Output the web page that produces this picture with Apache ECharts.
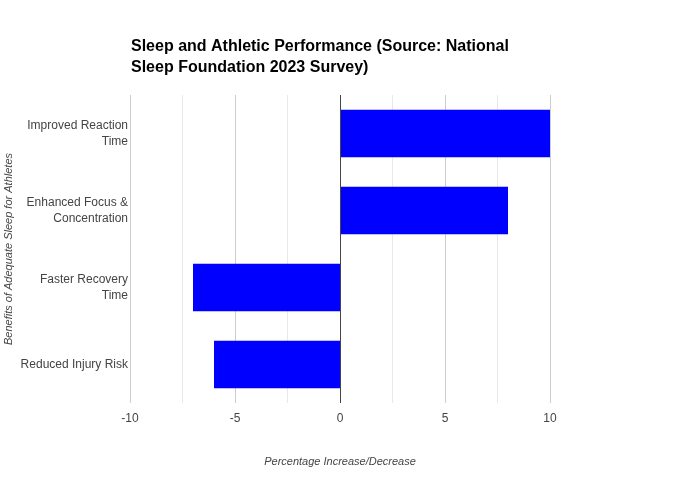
<!DOCTYPE html>
<html>
<head>
<meta charset="utf-8">
<script src="https://cdn.jsdelivr.net/npm/echarts@6/dist/echarts.min.js"></script>
<style>html,body{margin:0;padding:0;background:#fff}#c{width:680px;height:500px}</style>
</head>
<body>
<div id="c"></div>
<script>
// Data (top to bottom as shown)
const categories = ["Improved Reaction Time", "Enhanced Focus & Concentration", "Faster Recovery Time", "Reduced Injury Risk"];
const categoryLabels = ["Improved Reaction\nTime", "Enhanced Focus &\nConcentration", "Faster Recovery\nTime", "Reduced Injury Risk"];
const values = [10, 8, -7, -6];
const xTickValues = [-10, -5, 0, 5, 10];

const chart = echarts.init(document.getElementById('c'));
const font = 'Liberation Sans, Arial, sans-serif';
chart.setOption({
  animation: false,
  title: {
    text: 'Sleep and Athletic Performance (Source: National\nSleep Foundation 2023 Survey)',
    left: 131, top: 36, padding: 0,
    textStyle: { fontFamily: font, fontSize: 16, fontWeight: 'bold', color: '#000', lineHeight: 21 }
  },
  grid: { left: 130, right: 130, top: 95, bottom: 97, containLabel: false, outerBoundsMode: 'none' },
  xAxis: {
    type: 'value', min: -10, max: 10, interval: 2.5,
    name: 'Percentage Increase/Decrease', nameLocation: 'middle', nameGap: 53,
    nameTextStyle: { fontFamily: font, fontSize: 11, fontStyle: 'italic', color: '#444' },
    axisLine: { show: false }, axisTick: { show: false },
    axisLabel: {
      fontFamily: font, fontSize: 12, color: '#444', margin: 10,
      formatter: v => xTickValues.includes(v) ? String(v) : ''
    },
    splitLine: { show: true, lineStyle: { color: ['#cccccc', '#e8e8e8'], width: 1 } }
  },
  yAxis: {
    type: 'category', data: categories, inverse: true,
    name: 'Benefits of Adequate Sleep for Athletes', nameLocation: 'middle', nameGap: 116,
    nameMoveOverlap: false,
    nameTextStyle: { fontFamily: font, fontSize: 11, fontStyle: 'italic', color: '#444' },
    axisLine: { show: false }, axisTick: { show: false },
    axisLabel: {
      fontFamily: font, fontSize: 12, color: '#444', margin: 2, lineHeight: 16,
      formatter: (v, i) => categoryLabels[categories.indexOf(v)]
    },
    splitLine: { show: false }
  },
  series: [{
    type: 'bar', data: values, barWidth: '62%',
    itemStyle: { color: '#0000ff' },
    markLine: {
      silent: true, symbol: 'none', label: { show: false },
      lineStyle: { color: '#444', width: 1, type: 'solid' },
      data: [{ xAxis: 0 }]
    }
  }]
});
</script>
</body>
</html>
